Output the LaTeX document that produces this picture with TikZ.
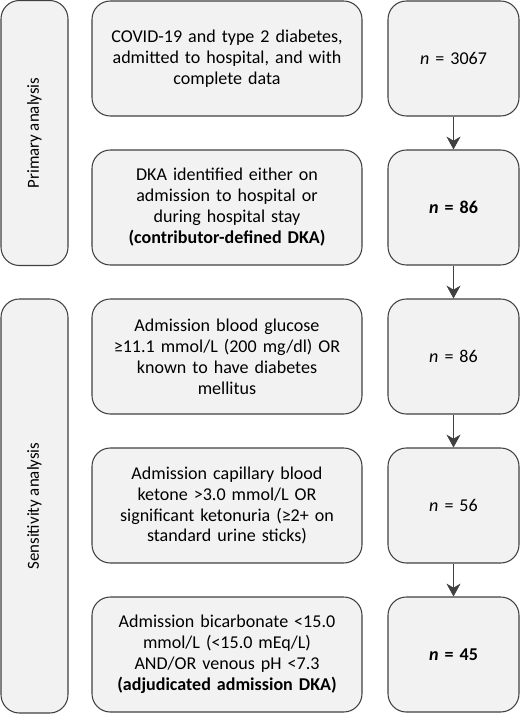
\documentclass[tikz,border=0pt]{standalone}
\usepackage{fontspec}
\setmainfont{Carlito}
\usepackage{tikz}
\usetikzlibrary{arrows.meta, positioning}

\definecolor{boxfill}{HTML}{F2F2F2}
\definecolor{boxline}{HTML}{404040}

\begin{document}
\begin{tikzpicture} [node distance = 4.47cm, on grid,
    box/.style = {draw=boxline, fill=boxfill, line width=0.9pt, rounded corners=0.55cm,
                  minimum height=3.45cm, align=center, inner sep=0pt,
                  font=\fontsize{15.4}{17.9}\selectfont},
    crit/.style = {box, text width=8.1cm, minimum width=8.1cm},
    count/.style = {box, text width=3.93cm, minimum width=3.93cm},
    phase/.style = {box, minimum width=2.01cm, font=\fontsize{14.4}{16}\selectfont}]
    \useasboundingbox (0,0) rectangle (15.6,-21.42);

    \node (c1) [crit] at (6.81,-1.755) {COVID-19 and type 2 diabetes,\\admitted to hospital, and with\\complete data};
    \node (c2) [crit, below = of c1] {DKA identified either on\\admission to hospital or\\during hospital stay\\\textbf{(contributor-defined DKA)}};
    \node (c3) [crit, below = of c2] {Admission blood glucose\\≥11.1 mmol/L (200 mg/dl) OR\\known to have diabetes\\mellitus};
    \node (c4) [crit, below = of c3] {Admission capillary blood\\ketone >3.0 mmol/L OR\\significant ketonuria (≥2+ on\\standard urine sticks)};
    \node (c5) [crit, below = of c4] {Admission bicarbonate <15.0\\mmol/L (<15.0 mEq/L)\\AND/OR venous pH <7.3\\\textbf{(adjudicated admission DKA)}};

    \node (n1) [count, right = 6.795cm of c1] {\textit{n} = 3067};
    \node (n2) [count, right = 6.795cm of c2] {\textbf{\textit{n} = 86}};
    \node (n3) [count, right = 6.795cm of c3] {\textit{n} = 86};
    \node (n4) [count, right = 6.795cm of c4] {\textit{n} = 56};
    \node (n5) [count, right = 6.795cm of c5] {\textbf{\textit{n} = 45}};

    \node (primary) [phase, minimum height=7.95cm] at (1.035,-3.99) {\rotatebox{90}{Primary analysis}};
    \node (sensitivity) [phase, minimum height=12.42cm] at (1.035,-15.18) {\rotatebox{90}{Sensitivity analysis}};

    \foreach \a/\b in {n1/n2, n2/n3, n3/n4, n4/n5}
        \draw [-{Stealth[length=11pt, width=12pt, inset=3.5pt]}, draw=boxline, line width=0.6pt] (\a) -- (\b);
\end{tikzpicture}
\end{document}
